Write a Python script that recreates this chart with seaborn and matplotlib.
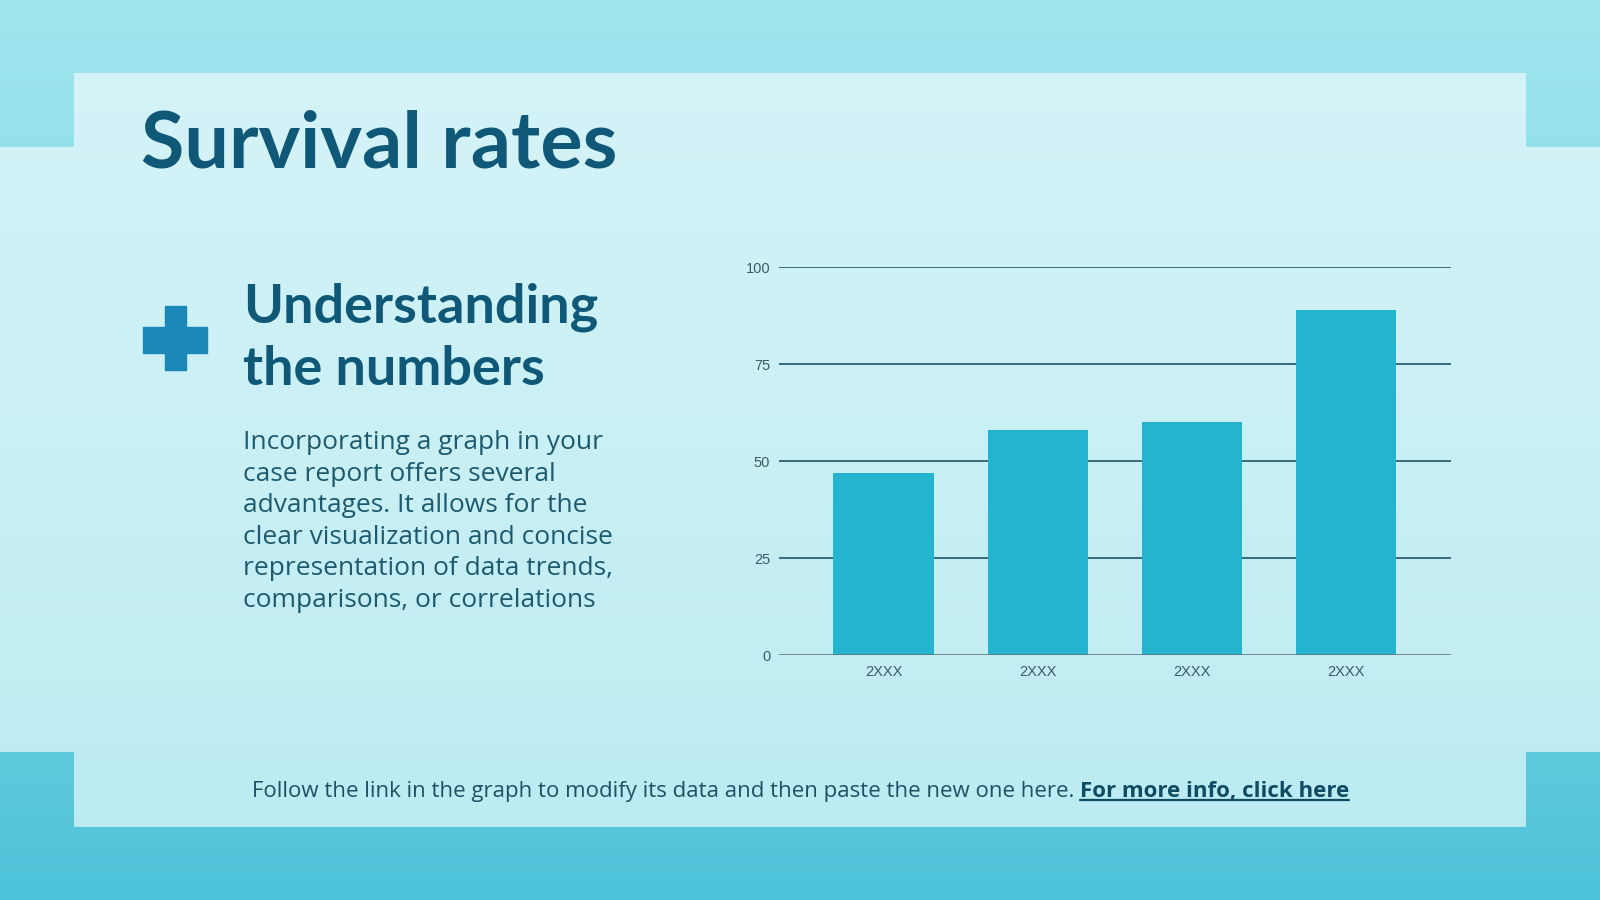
import numpy as np
import pandas as pd
import seaborn as sns
import matplotlib.pyplot as plt
from matplotlib.patches import Rectangle, Polygon
from matplotlib.colors import LinearSegmentedColormap

# chart data
periods = ["2XXX", "2XXX", "2XXX", "2XXX"]
rates = [47, 58, 60, 89]
y_ticks = [0, 25, 50, 75, 100]

title = "Survival rates"
subtitle = ["Understanding", "the numbers"]
body = ["Incorporating a graph in your",
        "case report offers several",
        "advantages. It allows for the",
        "clear visualization and concise",
        "representation of data trends,",
        "comparisons, or correlations"]
footer = "Follow the link in the graph to modify its data and then paste the new one here."
footer_link = "For more info, click here"

sns.set_theme(style="white")
plt.rcParams['font.family'] = ['Open Sans', 'DejaVu Sans']

fig = plt.figure(figsize=(16, 9), dpi=100)

# background layer in pixel coordinates
bg = fig.add_axes([0, 0, 1, 1])
bg.set_xlim(0, 1600)
bg.set_ylim(900, 0)
bg.axis("off")

grad = np.linspace(0, 1, 256).reshape(-1, 1)
outer = LinearSegmentedColormap.from_list("outer", ["#9fe5ed", "#80d9e6", "#4ec3da"])
bg.imshow(grad, cmap=outer, extent=[0, 1600, 900, 0], aspect="auto", zorder=0)

shape = Polygon([(0, 147), (74, 147), (74, 73), (1526, 73), (1526, 147), (1600, 147),
                 (1600, 752), (1526, 752), (1526, 827), (74, 827), (74, 752), (0, 752)],
                closed=True, facecolor="none", edgecolor="none")
bg.add_patch(shape)
inner = LinearSegmentedColormap.from_list("inner", ["#d7f4f8", "#c9f0f5", "#b9eaf1"])
im = bg.imshow(grad, cmap=inner, extent=[0, 1600, 900, 0], aspect="auto", zorder=1)
im.set_clip_path(shape)

# plus icon
plus_color = "#1b88b7"
bg.add_patch(Rectangle((143, 327), 64, 26, color=plus_color, zorder=2))
bg.add_patch(Rectangle((165, 306), 21, 64, color=plus_color, zorder=2))

dark = "#0f5877"
bg.text(141, 168, title, family=["Lato", "DejaVu Sans"], fontweight="bold",
        fontsize=57, color=dark, va="baseline", zorder=3)
for i, line in enumerate(subtitle):
    bg.text(243, 322 + i * 63, line, family=["Lato", "DejaVu Sans"], fontweight="bold",
            fontsize=39, color=dark, va="baseline", zorder=3)
for i, line in enumerate(body):
    bg.text(243, 449 + i * 31.6, line, fontsize=19, color="#1d5a6e",
            va="baseline", zorder=3)

t1 = bg.text(252, 797, footer, fontsize=16, color="#1f5064", va="baseline", zorder=3)
t2 = bg.annotate(footer_link, xy=(1, 0), xycoords=t1, xytext=(4, 0),
                 textcoords="offset points", fontsize=16, fontweight="bold",
                 color="#0e4c64", va="bottom", ha="left", zorder=3)

# bar chart
ax = fig.add_axes([0.4866, 0.2722, 0.4203, 0.4311])
ax.set_facecolor("none")
df = pd.DataFrame({"pos": range(len(rates)), "rate": rates})
sns.barplot(data=df, x="pos", y="rate", color="#25b4d0", saturation=1,
            width=0.65, linewidth=0, edgecolor="none", ax=ax, zorder=3)
ax.set_xlim(-0.68, len(rates) - 1 + 0.68)
ax.set_ylim(0, 100)
ax.set_yticks(y_ticks)
ax.set_xticks(range(len(periods)), periods)
for y in y_ticks[1:]:
    ax.axhline(y, color="#2a5f70", lw=1.3, zorder=1)
ax.axhline(0, color="#5d6f76", lw=1.8, zorder=4)
for s in ax.spines.values():
    s.set_visible(False)
ax.set_xlabel("")
ax.set_ylabel("")
ax.tick_params(axis="both", length=0, labelsize=10.5, labelcolor="#3b5c68")
ax.tick_params(axis="y", pad=6)
ax.tick_params(axis="x", pad=7)
for lab in ax.get_xticklabels() + ax.get_yticklabels():
    lab.set_family(["Liberation Sans", "DejaVu Sans"])

# underline the link text
fig.canvas.draw()
bb = t2.get_window_extent().transformed(bg.transData.inverted())
x0, x1 = min(bb.x0, bb.x1), max(bb.x0, bb.x1)
bg.plot([x0, x1], [800, 800], color="#0e4c64", lw=1.6, zorder=3)

fig.savefig("out.png", dpi=100)
